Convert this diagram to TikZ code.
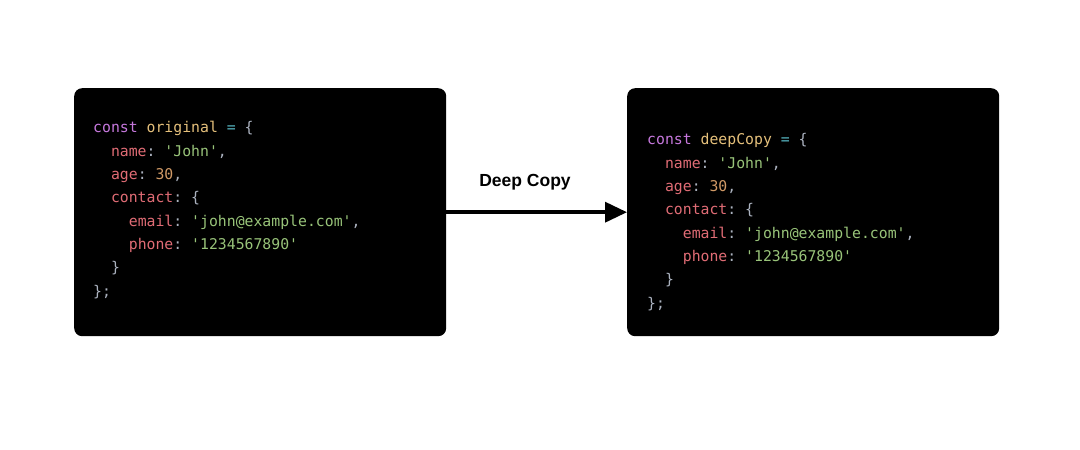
\documentclass[tikz,border=0pt]{standalone}
\usepackage{fontspec}
\setmainfont{Liberation Sans}
\setmonofont{DejaVu Sans Mono}
\usetikzlibrary{arrows.meta}
\definecolor{kw}{HTML}{C678DD}
\definecolor{vn}{HTML}{E5C07B}
\definecolor{op}{HTML}{56B6C2}
\definecolor{pu}{HTML}{ABB2BF}
\definecolor{pr}{HTML}{E06C75}
\definecolor{st}{HTML}{98C379}
\definecolor{nu}{HTML}{D19A66}
\newcommand{\ind}[1]{\hspace*{#1\fontcharwd\font`x}}
\newcommand{\codebody}[1]{%
\textcolor{kw}{const} \textcolor{vn}{#1} \textcolor{op}{=} \textcolor{pu}{\{}\\
\ind{2}\textcolor{pr}{name}\textcolor{pu}{:} \textcolor{st}{'John'}\textcolor{pu}{,}\\
\ind{2}\textcolor{pr}{age}\textcolor{pu}{:} \textcolor{nu}{30}\textcolor{pu}{,}\\
\ind{2}\textcolor{pr}{contact}\textcolor{pu}{:} \textcolor{pu}{\{}\\
\ind{4}\textcolor{pr}{email}\textcolor{pu}{:} \textcolor{st}{'john@example.com'}\textcolor{pu}{,}\\
\ind{4}\textcolor{pr}{phone}\textcolor{pu}{:} \textcolor{st}{'1234567890'}\\
\ind{2}\textcolor{pu}{\}}\\
\textcolor{pu}{\};}}
\tikzset{
  codebox/.style={fill=black, rounded corners=8pt, draw=none},
  code/.style={anchor=base west, align=left, inner sep=0pt,
    font=\ttfamily\fontsize{14.8}{23.3}\selectfont},
  flow/.style={line width=3.5pt, -{Triangle[length=22pt,width=20pt]}},
  lbl/.style={font=\bfseries\fontsize{17.5}{20}\selectfont, text=black}
}
\begin{document}
\begin{tikzpicture}[x=1pt,y=-1pt]
\useasboundingbox (0,0) rectangle (1080,450);
\fill[white] (0,0) rectangle (1080,450);
\node[codebox, minimum width=372pt, minimum height=248pt, anchor=north west] (L) at (74,88) {};
\node[codebox, minimum width=372pt, minimum height=248pt, anchor=north west] (R) at (627,88) {};
\node[code] (Lc) at (93,296) {\codebody{original}};
\node[code] (Rc) at (647,308) {\codebody{deepCopy}};
\draw[flow] (L.east) -- (R.west);
\node[lbl] (dc) at (525,182) {Deep Copy};
\end{tikzpicture}
\end{document}
